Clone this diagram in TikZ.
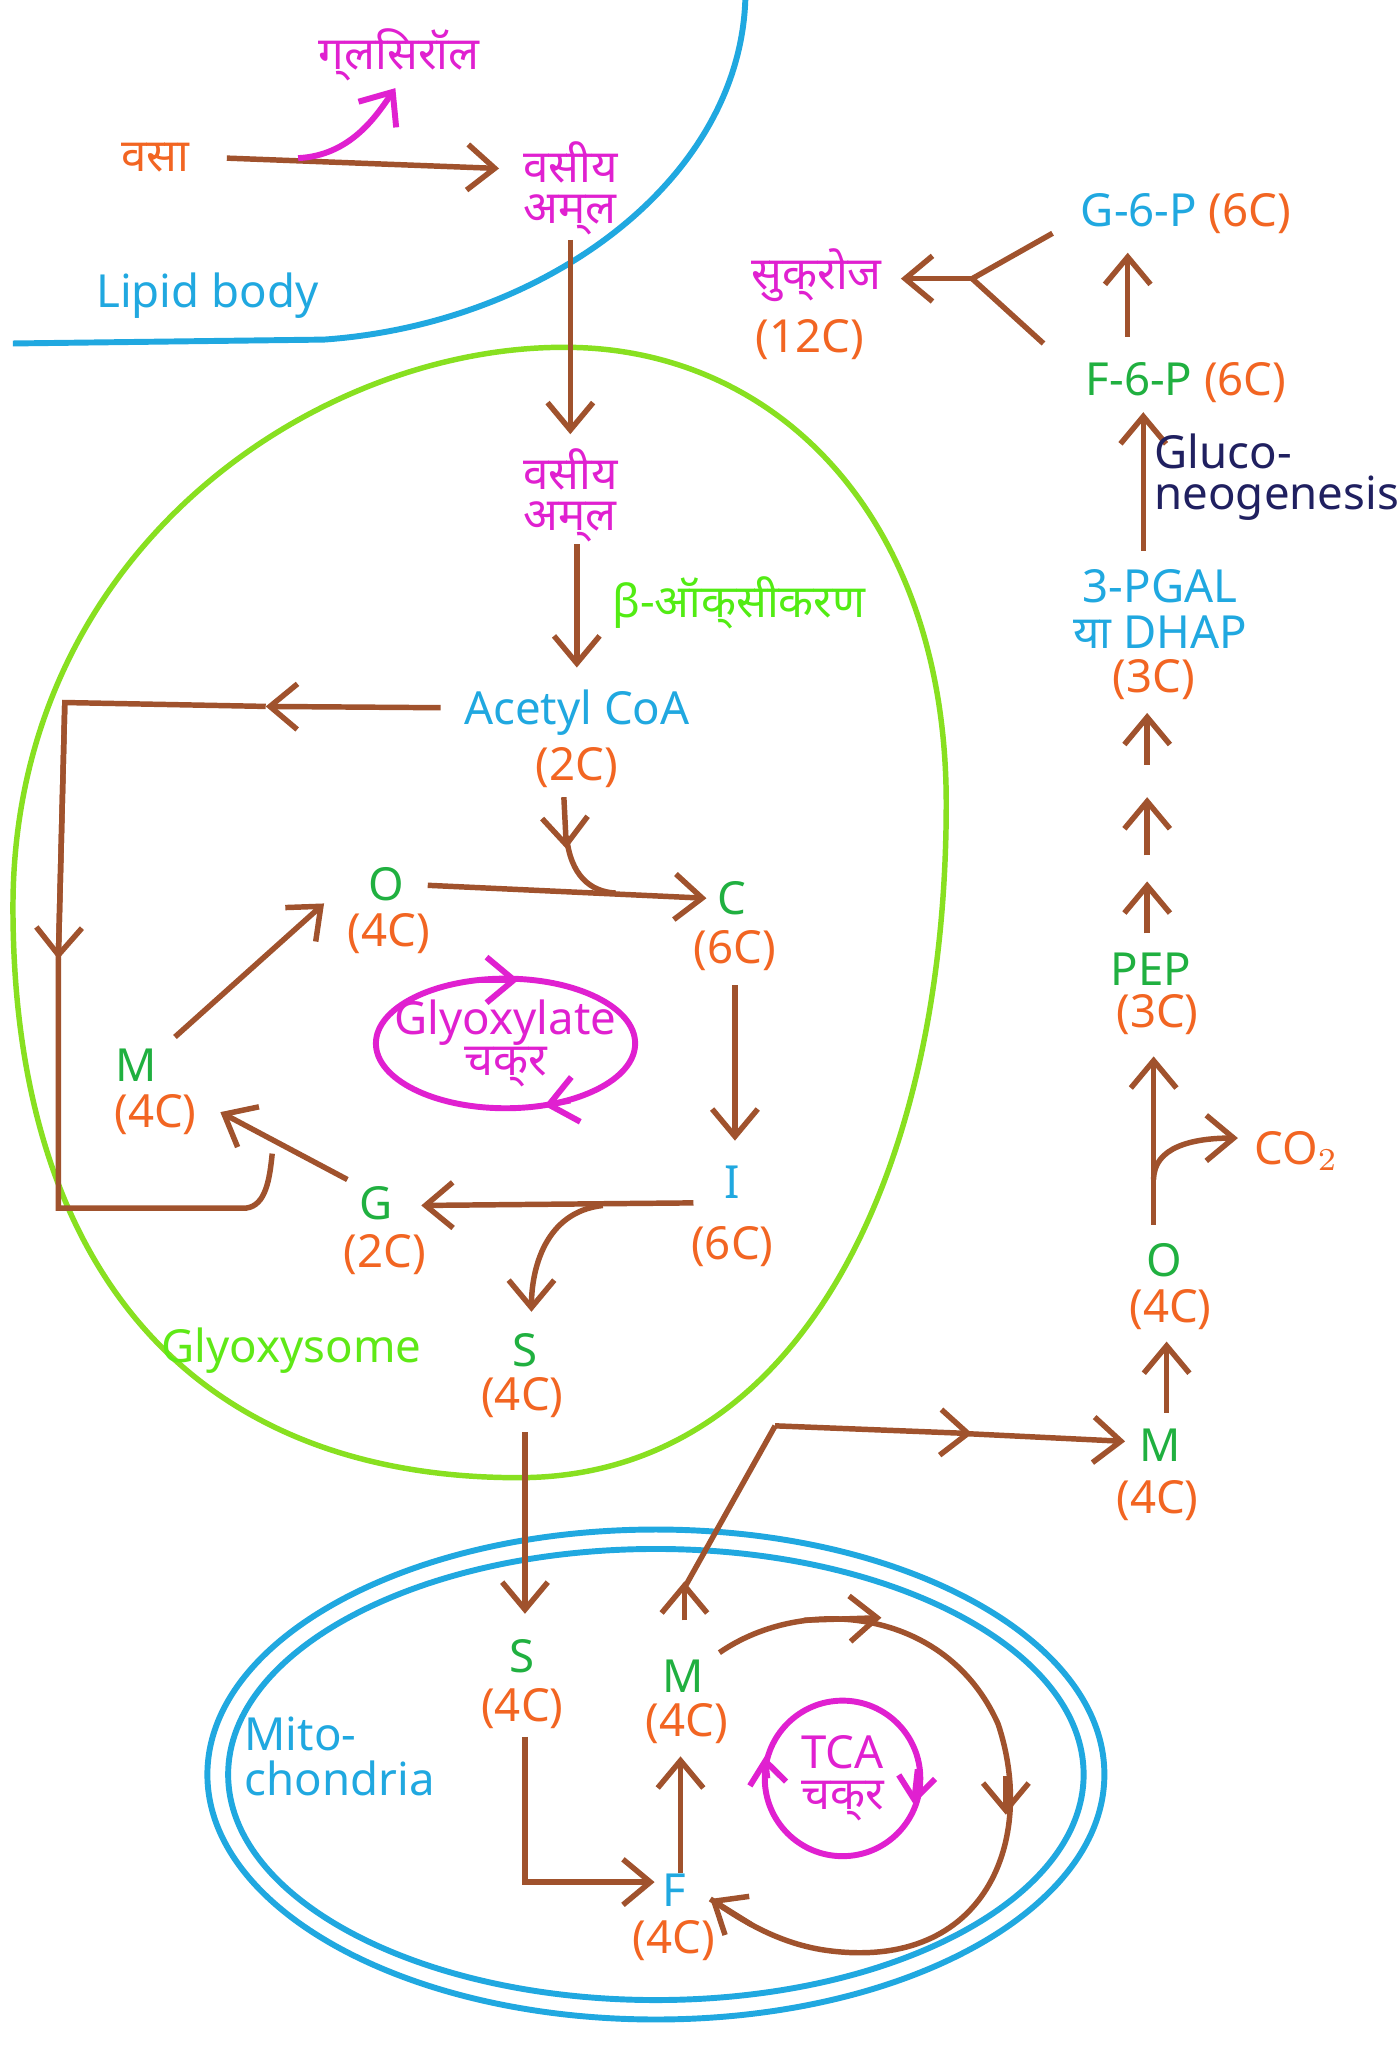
\documentclass[tikz,border=0pt]{standalone}
\usepackage{fontspec}
\setmainfont{Noto Sans}
\newcommand\deva{}
\usetikzlibrary{arrows.meta}
\definecolor{org}{HTML}{F26522}
\definecolor{mag}{HTML}{E020D0}
\definecolor{brn}{HTML}{A0522D}
\definecolor{cyn}{HTML}{20A8E0}
\definecolor{grn}{HTML}{20B040}
\definecolor{lime}{HTML}{88E020}
\definecolor{nav}{HTML}{202060}
\begin{document}
\begin{tikzpicture}[x=0.01cm,y=-0.01cm,
  t/.style={font=\normalsize,inner sep=1pt},
  ar/.style={brn,line width=1.2pt,-{Straight Barb[length=6pt,width=10pt]}},
  ln/.style={brn,line width=1.2pt}]
\useasboundingbox (0,0) rectangle (1080,1580);
\fill[white] (0,0) rectangle (1080,1580);
% lipid body
\draw[cyn,line width=1.3pt] (575,0) .. controls (570,140) and (420,250) .. (250,262) -- (10,265);
\node[t,cyn] (lb) at (160,228) {Lipid body};
\node[t,org] (vasa) at (120,122) {\deva वसा};
\node[t,mag,align=center] (vaa1) at (440,145) {\deva वसीय\\[-3pt]अम्ल};
\coordinate (v1) at (175,122);
\coordinate (v2) at (385,130);
\draw[ar] (v1) -- (v2);
\coordinate (gb) at (230,122);
\coordinate (gt) at (305,68);
\draw[mag,line width=1.3pt,-{Straight Barb[length=6pt,width=10pt]}] (gb) .. controls (270,120) and (290,90) .. (gt);
\node[t,mag] (gly) at (308,42) {\deva ग्लिसरॉल};
% glyoxysome
\draw[lime,line width=1.2pt] (440,268) .. controls (600,270) and (730,400) .. (730,620)
  .. controls (730,900) and (620,1140) .. (400,1140)
  .. controls (150,1140) and (10,980) .. (10,700)
  .. controls (10,420) and (250,265) .. (440,268);
\node[t,lime!70!green] (gs) at (225,1042) {Glyoxysome};
\coordinate (a1) at (440,185); \coordinate (a2) at (440,335);
\draw[ar] (a1) -- (a2);
\node[t,mag,align=center] (vaa2) at (440,382) {\deva वसीय\\[-3pt]अम्ल};
\coordinate (b1) at (445,420); \coordinate (b2) at (445,515);
\draw[ar] (b1) -- (b2);
\node[t,lime!60!green] (box) at (570,465) {β-{\deva ऑक्सीकरण}};
\node[t,cyn] (acoa) at (445,550) {Acetyl CoA};
\node[t,org] (ac2) at (445,592) {(2C)};
% glyoxylate bypass
\coordinate (p1) at (340,546); \coordinate (p2) at (205,545);
\coordinate (p3) at (50,542); \coordinate (p4) at (45,740); \coordinate (p5) at (45,932);
\draw[ar] (p1) -- (p2); \draw[ln] (p2) -- (p3) -- (p4);
\draw[ar] (p3) -- (p4); \draw[ln] (p4) -- (p5) -- (190,932) .. controls (205,930) and (208,910) .. (210,890);
\node[t,grn] (O1) at (298,682) {O}; \node[t,org] (O1c) at (300,720) {(4C)};
\node[t,grn] (C1) at (565,693) {C}; \node[t,org] (C1c) at (567,733) {(6C)};
\node[t,cyn] (I1) at (565,912) {I}; \node[t,org] (I1c) at (565,962) {(6C)};
\node[t,grn] (G1) at (290,928) {G}; \node[t,org] (G1c) at (297,968) {(2C)};
\node[t,grn] (M1) at (105,822) {M}; \node[t,org] (M1c) at (120,860) {(4C)};
\node[t,grn] (S1) at (405,1042) {S}; \node[t,org] (S1c) at (403,1078) {(4C)};
\coordinate (oc1) at (330,683); \coordinate (oc2) at (545,693);
\draw[ar] (oc1) -- (oc2);
\coordinate (d1) at (435,615);
\draw[ar] (d1) -- (437,655);
\draw[ln] (437,645) .. controls (440,675) and (455,688) .. (475,689);
\draw[ar] (567,760) -- (567,880);
\coordinate (ig1) at (535,928); \coordinate (ig2) at (325,930);
\draw[ar] (ig1) -- (ig2);
\draw[ar] (465,930) .. controls (420,935) and (410,980) .. (410,1012);
\coordinate (gm1) at (268,910); \coordinate (gm2) at (170,858);
\draw[ar] (gm1) -- (gm2);
\coordinate (mo1) at (135,800); \coordinate (mo2) at (250,697);
\draw[ar] (mo1) -- (mo2);
\draw[mag,line width=1.3pt] (390,805) ellipse (100 and 50);
\draw[mag,line width=1.3pt,-{Straight Barb[length=6pt,width=10pt]}] (370,756) -- (400,756);
\draw[mag,line width=1.3pt,-{Straight Barb[length=6pt,width=10pt]}] (440,849) -- (420,853);
\node[t,mag,align=center] (glc) at (390,805) {Glyoxylate\\[-3pt]{\deva चक्र}};
% mitochondria
\draw[cyn,line width=1.3pt] (506,1369) ellipse (346 and 189);
\draw[cyn,line width=1.3pt] (506,1369) ellipse (330 and 174);
\node[t,cyn,align=left] (mito) at (262,1355) {Mito-\\[-2pt]chondria};
\coordinate (s1) at (405,1105); \coordinate (s2) at (405,1245);
\draw[ar] (s1) -- (s2);
\node[t,grn] (S2) at (403,1278) {S}; \node[t,org] (S2c) at (403,1318) {(4C)};
\node[t,cyn] (F2) at (520,1458) {F}; \node[t,org] (F2c) at (520,1497) {(4C)};
\node[t,grn] (M2) at (527,1293) {M}; \node[t,org] (M2c) at (530,1330) {(4C)};
\draw[ar] (405,1340) -- (405,1452) -- (505,1452);
\draw[ar] (525,1445) -- (525,1355);
\draw[mag,line width=1.3pt] (650,1372) circle (60);
\node[t,mag,align=center] (tca) at (650,1372) {TCA\\[-3pt]{\deva चक्र}};
\draw[mag,line width=1.3pt,-{Straight Barb[length=5pt,width=8pt]}] (592,1372) -- (590,1355);
\draw[mag,line width=1.3pt,-{Straight Barb[length=5pt,width=8pt]}] (708,1365) -- (705,1392);
\draw[ln] (555,1275) .. controls (620,1230) and (730,1240) .. (770,1330)
  .. controls (800,1420) and (760,1520) .. (640,1505) .. controls (600,1500) and (570,1480) .. (548,1465);
\draw[ar] (620,1250) -- (680,1248);
\draw[ar] (776,1370) -- (776,1400);
\draw[ar] (580,1485) -- (548,1465);
\draw[ar] (528,1250) -- (528,1220);
\draw[ln] (528,1225) -- (598,1100);
\coordinate (mm) at (868,1112);
\draw[ar] (598,1100) -- (750,1106); \draw[ar] (745,1106) -- (mm);
% gluconeogenesis column
\node[t,grn] (M3) at (895,1115) {M}; \node[t,org] (M3c) at (893,1158) {(4C)};
\node[t,grn] (O3) at (898,972) {O}; \node[t,org] (O3c) at (903,1010) {(4C)};
\draw[ar] (900,1090) -- (900,1035);
\draw[ar] (890,945) -- (890,815);
\draw[ar] (890,910) .. controls (890,885) and (920,878) .. (955,878);
\node[t,org] (co2) at (1000,888) {CO$_2$};
\node[t,grn] (pep) at (888,748) {PEP}; \node[t,org] (pepc) at (893,783) {(3C)};
\draw[ar] (885,720) -- (885,680);
\draw[ar] (885,660) -- (885,615);
\draw[ar] (885,590) -- (885,550);
\node[t,cyn,align=center] (pgal) at (895,470) {3-PGAL\\[-2pt]{\deva या} DHAP};
\node[t,org] (pgc) at (890,524) {(3C)};
\draw[ar] (882,425) -- (882,318);
\node[t,nav,align=left] (gn) at (985,368) {Gluco-\\[-3pt]neogenesis};
\node[t] (f6p) at (915,295) {\textcolor{grn}{F-6-P} \textcolor{org}{(6C)}};
\draw[ar] (870,260) -- (870,195);
\node[t] (g6p) at (915,165) {\textcolor{cyn}{G-6-P} \textcolor{org}{(6C)}};
\coordinate (y1) at (812,180); \coordinate (y2) at (805,265); \coordinate (yc) at (750,215);
\draw[ln] (y1) -- (yc) -- (y2);
\draw[ar] (yc) -- (695,215);
\node[t,mag] (suc) at (630,212) {\deva सुक्रोज};
\node[t,org] (succ) at (625,262) {(12C)};
\end{tikzpicture}
\end{document}
